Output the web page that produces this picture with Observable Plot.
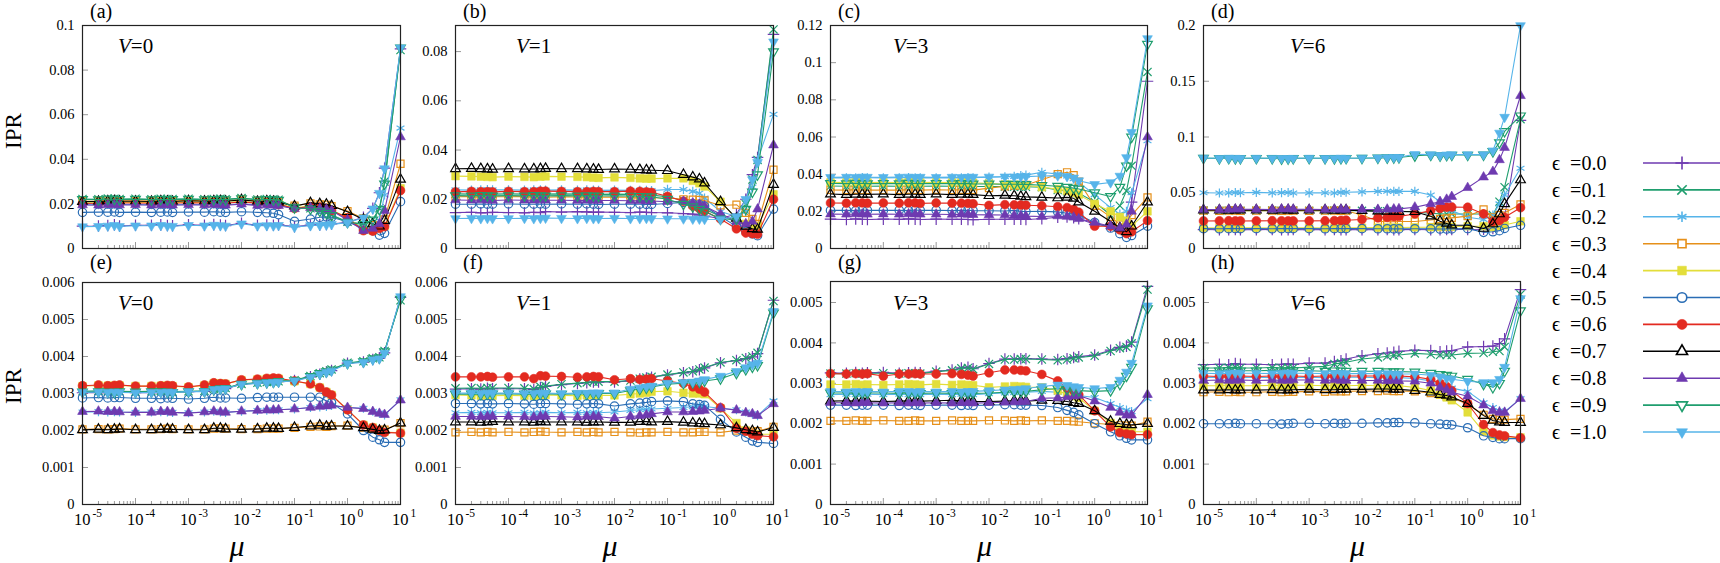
<!DOCTYPE html>
<html><head><meta charset="utf-8">
<script src="https://cdn.jsdelivr.net/npm/d3@7"></script>
<script src="https://cdn.jsdelivr.net/npm/@observablehq/plot@0.6"></script>
<style>
body{margin:0;background:#fff;}
#chart{position:relative;width:1720px;height:563px;overflow:hidden;font-family:"Liberation Serif","DejaVu Serif","Noto Serif","Times New Roman",Times,serif;color:#000;background:#fff;}
.abs{position:absolute;white-space:nowrap;line-height:1;}
</style></head><body><div id="chart"></div>
<script>
// ---------------- data ----------------
const mu = [1e-5,2e-5,3e-5,4e-5,5e-5,1e-4,2e-4,3e-4,4e-4,5e-4,1e-3,2e-3,3e-3,4e-3,5e-3,1e-2,2e-2,3e-2,4e-2,5e-2,0.1,0.2,0.3,0.4,0.5,1,2,3,4,5,10];
const epsLabels = ["0.0","0.1","0.2","0.3","0.4","0.5","0.6","0.7","0.8","0.9","1.0"];
const panelLetters = ["(a)","(b)","(c)","(d)","(e)","(f)","(g)","(h)"];
const Vvalues = [0,1,3,6,0,1,3,6];
const yMaxes = [0.1,0.0906,0.12,0.2,0.006,0.006,0.00552,0.00552];
const yTicksTop = [[0,0.02,0.04,0.06,0.08,0.1],[0,0.02,0.04,0.06,0.08],[0,0.02,0.04,0.06,0.08,0.1,0.12],[0,0.05,0.1,0.15,0.2]];
const yTicksBottom = [[0,0.001,0.002,0.003,0.004,0.005,0.006],[0,0.001,0.002,0.003,0.004,0.005,0.006],[0,0.001,0.002,0.003,0.004,0.005],[0,0.001,0.002,0.003,0.004,0.005]];
const xMajor = [1e-5,1e-4,1e-3,1e-2,1e-1,1,10];
const xMinor = [2e-5,3e-5,4e-5,5e-5,6e-5,7e-5,8e-5,9e-5,2e-4,3e-4,4e-4,5e-4,6e-4,7e-4,8e-4,9e-4,2e-3,3e-3,4e-3,5e-3,6e-3,7e-3,8e-3,9e-3,2e-2,3e-2,4e-2,5e-2,6e-2,7e-2,8e-2,9e-2,0.2,0.3,0.4,0.5,0.6,0.7,0.8,0.9,2,3,4,5,6,7,8,9];

// IPR series, one row per epsilon (0.0 ... 1.0), one column per mu
const iprA = [
[.0100,.0101,.0103,.0106,.0101,.0104,.0104,.0106,.0103,.0102,.0106,.0104,.0107,.0105,.0103,.0113,.0104,.0105,.0104,.0106,.0098,.0105,.0106,.0108,.0110,.0118,.0140,.0180,.0250,.0360,.0895],
[.0222,.0221,.0224,.0223,.0222,.0223,.0221,.0223,.0222,.0222,.0223,.0221,.0222,.0223,.0221,.0226,.0220,.0222,.0221,.0219,.0185,.0180,.0170,.0160,.0150,.0120,.0110,.0130,.0180,.0300,.0890],
[.0197,.0196,.0198,.0199,.0197,.0198,.0196,.0197,.0198,.0196,.0198,.0197,.0199,.0198,.0196,.0201,.0195,.0197,.0196,.0194,.0180,.0185,.0180,.0178,.0172,.0130,.0092,.0100,.0125,.0240,.0540],
[.0212,.0213,.0215,.0216,.0214,.0214,.0213,.0215,.0214,.0213,.0216,.0214,.0215,.0216,.0214,.0220,.0213,.0215,.0213,.0210,.0192,.0202,.0198,.0196,.0190,.0168,.0135,.0105,.0098,.0130,.0380],
[.0205,.0206,.0208,.0209,.0207,.0207,.0206,.0208,.0207,.0206,.0208,.0207,.0209,.0208,.0206,.0212,.0206,.0207,.0206,.0200,.0182,.0190,.0188,.0182,.0172,.0140,.0082,.0080,.0095,.0100,.0270],
[.0162,.0163,.0163,.0164,.0162,.0163,.0162,.0163,.0164,.0162,.0164,.0163,.0165,.0163,.0162,.0165,.0162,.0160,.0158,.0152,.0122,.0132,.0140,.0142,.0140,.0120,.0090,.0080,.0060,.0068,.0210],
[.0202,.0203,.0205,.0206,.0204,.0204,.0203,.0205,.0204,.0203,.0205,.0204,.0206,.0205,.0203,.0209,.0203,.0204,.0203,.0197,.0180,.0188,.0186,.0180,.0170,.0138,.0080,.0078,.0090,.0098,.0260],
[.0210,.0211,.0213,.0214,.0212,.0212,.0211,.0213,.0212,.0211,.0214,.0212,.0213,.0214,.0212,.0218,.0211,.0213,.0211,.0208,.0190,.0205,.0200,.0198,.0192,.0165,.0130,.0110,.0100,.0125,.0310],
[.0195,.0194,.0196,.0197,.0195,.0196,.0194,.0195,.0196,.0194,.0196,.0195,.0197,.0196,.0194,.0199,.0193,.0195,.0194,.0192,.0178,.0183,.0178,.0176,.0170,.0128,.0080,.0090,.0110,.0170,.0500],
[.0220,.0219,.0222,.0221,.0220,.0221,.0219,.0221,.0220,.0220,.0221,.0219,.0220,.0221,.0219,.0224,.0218,.0220,.0219,.0217,.0183,.0178,.0168,.0158,.0148,.0118,.0108,.0128,.0175,.0290,.0900],
[.0098,.0099,.0101,.0104,.0099,.0102,.0102,.0104,.0101,.0100,.0104,.0102,.0105,.0103,.0101,.0111,.0102,.0103,.0102,.0104,.0096,.0103,.0104,.0106,.0108,.0116,.0138,.0178,.0248,.0358,.0900]];
const iprB = [
[.0146,.0147,.0145,.0146,.0147,.0146,.0145,.0147,.0146,.0150,.0148,.0150,.0149,.0147,.0148,.0147,.0146,.0148,.0147,.0146,.0145,.0142,.0140,.0136,.0132,.0122,.0140,.0200,.0300,.0370,.0870],
[.0222,.0221,.0223,.0222,.0221,.0222,.0221,.0223,.0222,.0221,.0222,.0221,.0222,.0221,.0220,.0221,.0220,.0219,.0218,.0217,.0210,.0195,.0180,.0170,.0160,.0130,.0110,.0180,.0280,.0360,.0890],
[.0238,.0237,.0238,.0239,.0238,.0238,.0237,.0238,.0238,.0237,.0238,.0237,.0238,.0237,.0236,.0237,.0236,.0236,.0236,.0235,.0240,.0240,.0232,.0225,.0205,.0150,.0130,.0150,.0250,.0360,.0545],
[.0210,.0211,.0210,.0209,.0210,.0210,.0211,.0210,.0209,.0208,.0210,.0209,.0210,.0209,.0208,.0209,.0208,.0207,.0207,.0206,.0205,.0200,.0198,.0197,.0195,.0175,.0178,.0145,.0120,.0100,.0320],
[.0294,.0293,.0292,.0291,.0290,.0292,.0291,.0290,.0292,.0293,.0292,.0291,.0290,.0288,.0287,.0289,.0287,.0285,.0284,.0284,.0285,.0285,.0275,.0265,.0252,.0190,.0120,.0100,.0080,.0090,.0220],
[.0180,.0180,.0181,.0180,.0180,.0181,.0180,.0180,.0181,.0180,.0181,.0180,.0181,.0180,.0179,.0180,.0180,.0180,.0179,.0179,.0183,.0187,.0182,.0178,.0172,.0130,.0090,.0070,.0060,.0052,.0160],
[.0230,.0232,.0231,.0231,.0230,.0232,.0231,.0231,.0233,.0233,.0232,.0231,.0231,.0232,.0231,.0231,.0233,.0232,.0230,.0228,.0212,.0192,.0172,.0162,.0152,.0120,.0080,.0063,.0060,.0058,.0200],
[.0324,.0325,.0324,.0323,.0322,.0324,.0323,.0323,.0324,.0325,.0324,.0324,.0323,.0322,.0321,.0323,.0322,.0320,.0319,.0318,.0316,.0300,.0290,.0282,.0266,.0190,.0122,.0090,.0080,.0078,.0260],
[.0197,.0196,.0197,.0196,.0195,.0197,.0196,.0196,.0197,.0196,.0196,.0195,.0196,.0195,.0195,.0195,.0194,.0194,.0193,.0193,.0190,.0191,.0185,.0180,.0172,.0140,.0110,.0100,.0110,.0160,.0420],
[.0215,.0214,.0216,.0215,.0214,.0215,.0214,.0216,.0215,.0214,.0215,.0214,.0215,.0214,.0213,.0214,.0213,.0212,.0211,.0210,.0200,.0180,.0170,.0160,.0150,.0120,.0120,.0160,.0230,.0300,.0800],
[.0122,.0123,.0122,.0123,.0122,.0122,.0123,.0122,.0123,.0124,.0123,.0122,.0123,.0122,.0122,.0123,.0122,.0122,.0123,.0122,.0121,.0121,.0120,.0120,.0119,.0118,.0130,.0200,.0280,.0350,.0840]];
const iprC = [
[.0158,.0156,.0159,.0157,.0156,.0158,.0157,.0159,.0158,.0156,.0158,.0157,.0157,.0156,.0155,.0157,.0157,.0158,.0157,.0156,.0160,.0168,.0170,.0166,.0160,.0130,.0120,.0110,.0150,.0250,.0900],
[.0336,.0335,.0337,.0336,.0335,.0336,.0335,.0336,.0337,.0335,.0336,.0335,.0336,.0335,.0334,.0334,.0333,.0333,.0333,.0332,.0330,.0315,.0308,.0302,.0298,.0250,.0180,.0230,.0310,.0445,.0950],
[.0380,.0381,.0380,.0382,.0381,.0380,.0381,.0382,.0380,.0381,.0380,.0381,.0380,.0382,.0381,.0384,.0386,.0388,.0392,.0395,.0410,.0400,.0390,.0375,.0355,.0290,.0220,.0185,.0200,.0300,.0580],
[.0315,.0314,.0316,.0315,.0314,.0315,.0314,.0316,.0315,.0314,.0316,.0315,.0316,.0315,.0314,.0325,.0335,.0338,.0340,.0342,.0370,.0400,.0410,.0395,.0360,.0230,.0170,.0130,.0140,.0180,.0275],
[.0356,.0355,.0357,.0356,.0355,.0356,.0355,.0357,.0356,.0355,.0356,.0355,.0356,.0355,.0354,.0350,.0345,.0343,.0342,.0340,.0330,.0320,.0310,.0300,.0290,.0240,.0200,.0170,.0150,.0120,.0200],
[.0205,.0206,.0204,.0207,.0205,.0205,.0206,.0204,.0207,.0205,.0206,.0204,.0205,.0206,.0204,.0203,.0202,.0205,.0200,.0199,.0200,.0197,.0190,.0186,.0180,.0140,.0110,.0080,.0060,.0070,.0120],
[.0245,.0244,.0246,.0245,.0244,.0245,.0244,.0246,.0245,.0243,.0245,.0244,.0244,.0243,.0241,.0232,.0236,.0235,.0234,.0233,.0230,.0225,.0220,.0210,.0195,.0120,.0120,.0100,.0080,.0090,.0150],
[.0293,.0290,.0292,.0292,.0291,.0293,.0290,.0292,.0292,.0290,.0293,.0290,.0292,.0291,.0290,.0284,.0286,.0284,.0280,.0278,.0275,.0272,.0275,.0270,.0250,.0200,.0145,.0110,.0090,.0120,.0250],
[.0185,.0184,.0186,.0185,.0184,.0185,.0184,.0186,.0185,.0184,.0184,.0183,.0185,.0183,.0182,.0181,.0180,.0178,.0176,.0174,.0172,.0175,.0172,.0168,.0160,.0140,.0120,.0110,.0130,.0200,.0600],
[.0350,.0349,.0351,.0350,.0349,.0350,.0349,.0351,.0350,.0349,.0350,.0349,.0350,.0349,.0348,.0347,.0346,.0346,.0345,.0345,.0340,.0335,.0330,.0325,.0320,.0300,.0280,.0330,.0445,.0600,.1100],
[.0383,.0384,.0383,.0385,.0384,.0383,.0384,.0385,.0383,.0384,.0383,.0384,.0383,.0384,.0384,.0385,.0386,.0386,.0387,.0387,.0390,.0392,.0388,.0380,.0365,.0345,.0355,.0390,.0490,.0625,.1130]];
const iprD = [
[.0170,.0168,.0169,.0170,.0168,.0169,.0170,.0168,.0169,.0170,.0168,.0169,.0170,.0168,.0169,.0168,.0169,.0170,.0168,.0169,.0170,.0168,.0169,.0170,.0170,.0171,.0172,.0180,.0220,.0280,.1150],
[.0340,.0338,.0339,.0340,.0338,.0339,.0340,.0338,.0339,.0340,.0338,.0339,.0340,.0338,.0339,.0338,.0335,.0334,.0334,.0333,.0330,.0315,.0312,.0310,.0310,.0310,.0310,.0300,.0420,.0550,.1160],
[.0500,.0498,.0499,.0502,.0500,.0503,.0499,.0501,.0502,.0498,.0499,.0500,.0498,.0503,.0504,.0508,.0512,.0513,.0512,.0512,.0512,.0480,.0420,.0370,.0340,.0280,.0260,.0300,.0400,.0480,.0720],
[.0340,.0338,.0339,.0340,.0338,.0339,.0340,.0338,.0339,.0340,.0338,.0339,.0340,.0338,.0339,.0300,.0245,.0240,.0240,.0242,.0242,.0255,.0265,.0270,.0275,.0290,.0350,.0280,.0300,.0320,.0395],
[.0185,.0184,.0185,.0186,.0185,.0185,.0184,.0185,.0186,.0185,.0185,.0184,.0185,.0186,.0185,.0186,.0187,.0188,.0188,.0189,.0190,.0191,.0192,.0193,.0195,.0200,.0200,.0190,.0200,.0210,.0244],
[.0178,.0177,.0178,.0179,.0178,.0178,.0177,.0178,.0179,.0178,.0178,.0177,.0178,.0179,.0178,.0178,.0177,.0177,.0176,.0176,.0177,.0176,.0175,.0175,.0176,.0178,.0145,.0150,.0160,.0180,.0208],
[.0247,.0248,.0249,.0248,.0247,.0248,.0249,.0248,.0248,.0247,.0248,.0249,.0250,.0252,.0254,.0260,.0275,.0280,.0285,.0288,.0310,.0340,.0360,.0370,.0372,.0370,.0310,.0240,.0250,.0280,.0366],
[.0345,.0344,.0343,.0345,.0344,.0344,.0343,.0345,.0344,.0343,.0345,.0344,.0343,.0345,.0344,.0340,.0335,.0334,.0333,.0332,.0330,.0290,.0245,.0225,.0210,.0208,.0180,.0220,.0310,.0400,.0615],
[.0350,.0349,.0351,.0353,.0352,.0351,.0350,.0353,.0354,.0352,.0351,.0350,.0352,.0351,.0350,.0350,.0350,.0352,.0353,.0355,.0370,.0400,.0420,.0440,.0465,.0545,.0640,.0690,.0795,.0905,.1370],
[.0810,.0808,.0809,.0807,.0808,.0809,.0808,.0805,.0806,.0808,.0809,.0808,.0807,.0808,.0809,.0810,.0812,.0814,.0815,.0816,.0832,.0838,.0832,.0836,.0838,.0838,.0840,.0870,.0950,.1050,.1190],
[.0812,.0809,.0811,.0810,.0809,.0811,.0810,.0809,.0808,.0810,.0811,.0809,.0810,.0811,.0810,.0812,.0814,.0816,.0817,.0818,.0845,.0842,.0835,.0840,.0842,.0842,.0842,.0877,.1036,.1178,.2000]];
const iprE = [
[.00302,.00303,.00302,.00303,.00304,.00302,.00303,.00302,.00303,.00304,.00305,.00306,.00310,.00312,.00313,.00325,.00328,.00330,.00331,.00332,.00335,.00345,.00352,.00358,.00362,.00382,.00385,.00392,.00395,.00410,.00560],
[.00306,.00307,.00306,.00305,.00306,.00305,.00306,.00307,.00306,.00305,.00306,.00307,.00312,.00314,.00315,.00326,.00329,.00331,.00332,.00333,.00336,.00347,.00355,.00360,.00365,.00383,.00387,.00395,.00398,.00415,.00552],
[.00250,.00251,.00250,.00251,.00250,.00249,.00250,.00251,.00250,.00249,.00248,.00250,.00252,.00250,.00249,.00252,.00254,.00255,.00256,.00256,.00258,.00262,.00264,.00265,.00268,.00262,.00260,.00252,.00247,.00242,.00283],
[.00203,.00204,.00203,.00204,.00205,.00203,.00203,.00204,.00205,.00204,.00203,.00203,.00205,.00206,.00205,.00204,.00204,.00205,.00205,.00205,.00207,.00210,.00211,.00210,.00212,.00213,.00208,.00204,.00200,.00202,.00220],
[.00320,.00322,.00321,.00321,.00322,.00320,.00320,.00321,.00321,.00320,.00317,.00322,.00328,.00327,.00326,.00336,.00338,.00340,.00341,.00340,.00333,.00326,.00316,.00304,.00296,.00256,.00215,.00208,.00200,.00196,.00194],
[.00288,.00289,.00288,.00289,.00289,.00287,.00287,.00286,.00288,.00287,.00285,.00287,.00290,.00288,.00288,.00287,.00289,.00290,.00290,.00290,.00290,.00290,.00290,.00280,.00275,.00245,.00200,.00182,.00175,.00168,.00168],
[.00321,.00323,.00321,.00322,.00323,.00320,.00320,.00321,.00322,.00321,.00318,.00323,.00329,.00327,.00326,.00337,.00339,.00341,.00342,.00341,.00334,.00326,.00316,.00304,.00296,.00256,.00215,.00208,.00200,.00195,.00193],
[.00202,.00203,.00202,.00203,.00204,.00202,.00202,.00203,.00204,.00203,.00202,.00202,.00206,.00206,.00204,.00203,.00204,.00206,.00206,.00205,.00208,.00212,.00214,.00211,.00212,.00212,.00207,.00203,.00200,.00201,.00220],
[.00251,.00252,.00251,.00251,.00250,.00249,.00249,.00251,.00251,.00249,.00247,.00250,.00252,.00250,.00249,.00252,.00254,.00255,.00255,.00256,.00258,.00262,.00265,.00266,.00268,.00262,.00259,.00251,.00246,.00243,.00282],
[.00304,.00305,.00304,.00303,.00305,.00304,.00305,.00305,.00304,.00303,.00305,.00306,.00311,.00313,.00314,.00325,.00328,.00330,.00331,.00333,.00335,.00346,.00354,.00359,.00364,.00382,.00386,.00394,.00397,.00413,.00555],
[.00303,.00304,.00303,.00304,.00303,.00302,.00303,.00303,.00304,.00303,.00305,.00305,.00311,.00312,.00313,.00325,.00327,.00329,.00330,.00331,.00334,.00344,.00352,.00357,.00361,.00381,.00384,.00391,.00394,.00409,.00562]];
const iprF = [
[.00312,.00313,.00312,.00314,.00313,.00313,.00313,.00311,.00316,.00319,.00324,.00327,.00329,.00331,.00331,.00331,.00334,.00339,.00342,.00344,.00350,.00356,.00359,.00364,.00369,.00383,.00389,.00394,.00399,.00408,.00552],
[.00314,.00315,.00314,.00315,.00315,.00315,.00314,.00312,.00318,.00320,.00325,.00328,.00330,.00332,.00332,.00332,.00335,.00340,.00343,.00345,.00351,.00357,.00360,.00365,.00370,.00384,.00390,.00396,.00400,.00410,.00550],
[.00248,.00249,.00248,.00249,.00248,.00248,.00249,.00247,.00248,.00249,.00248,.00249,.00248,.00249,.00248,.00250,.00254,.00256,.00257,.00258,.00260,.00262,.00264,.00266,.00265,.00260,.00256,.00250,.00245,.00240,.00280],
[.00195,.00196,.00195,.00196,.00195,.00196,.00195,.00196,.00197,.00196,.00195,.00196,.00195,.00196,.00195,.00196,.00195,.00194,.00195,.00195,.00196,.00195,.00195,.00196,.00196,.00195,.00200,.00198,.00197,.00198,.00210],
[.00296,.00295,.00294,.00295,.00294,.00295,.00294,.00293,.00295,.00296,.00295,.00294,.00295,.00296,.00295,.00295,.00298,.00300,.00302,.00305,.00306,.00302,.00300,.00300,.00298,.00260,.00220,.00200,.00192,.00190,.00190],
[.00273,.00273,.00272,.00273,.00272,.00273,.00272,.00271,.00273,.00273,.00272,.00271,.00272,.00273,.00272,.00266,.00272,.00274,.00276,.00278,.00280,.00278,.00272,.00270,.00268,.00230,.00196,.00182,.00172,.00168,.00165],
[.00345,.00345,.00345,.00346,.00344,.00345,.00345,.00340,.00348,.00347,.00346,.00344,.00345,.00346,.00345,.00337,.00340,.00338,.00339,.00340,.00334,.00327,.00318,.00312,.00304,.00262,.00206,.00198,.00190,.00186,.00183],
[.00223,.00223,.00222,.00223,.00224,.00223,.00223,.00222,.00224,.00223,.00223,.00223,.00222,.00223,.00223,.00222,.00222,.00224,.00224,.00223,.00224,.00222,.00220,.00219,.00218,.00215,.00207,.00202,.00199,.00196,.00208],
[.00238,.00238,.00237,.00238,.00238,.00238,.00237,.00236,.00238,.00238,.00237,.00236,.00238,.00238,.00237,.00233,.00238,.00240,.00242,.00245,.00250,.00250,.00251,.00252,.00254,.00260,.00255,.00248,.00245,.00240,.00272],
[.00298,.00299,.00298,.00299,.00299,.00299,.00298,.00298,.00299,.00299,.00298,.00299,.00299,.00300,.00300,.00300,.00308,.00312,.00315,.00318,.00325,.00328,.00329,.00331,.00334,.00340,.00355,.00365,.00372,.00376,.00518],
[.00301,.00301,.00300,.00301,.00301,.00301,.00300,.00300,.00301,.00301,.00300,.00301,.00301,.00302,.00302,.00302,.00312,.00315,.00318,.00320,.00328,.00330,.00331,.00334,.00338,.00347,.00360,.00370,.00378,.00382,.00522]];
const iprG = [
[.00326,.00325,.00327,.00325,.00326,.00327,.00325,.00326,.00327,.00326,.00330,.00333,.00338,.00340,.00336,.00349,.00360,.00360,.00361,.00361,.00360,.00359,.00361,.00364,.00366,.00370,.00382,.00389,.00392,.00402,.00540],
[.00324,.00324,.00325,.00324,.00325,.00325,.00324,.00325,.00325,.00324,.00329,.00332,.00337,.00338,.00335,.00348,.00359,.00359,.00360,.00360,.00359,.00357,.00359,.00362,.00364,.00368,.00380,.00387,.00390,.00399,.00532],
[.00272,.00273,.00272,.00273,.00273,.00272,.00273,.00272,.00273,.00272,.00273,.00272,.00273,.00272,.00272,.00274,.00276,.00277,.00278,.00278,.00280,.00278,.00276,.00272,.00270,.00265,.00250,.00240,.00234,.00230,.00262],
[.00207,.00207,.00208,.00207,.00207,.00208,.00207,.00207,.00208,.00207,.00207,.00208,.00207,.00207,.00207,.00208,.00208,.00207,.00208,.00207,.00208,.00207,.00207,.00206,.00205,.00201,.00198,.00196,.00195,.00195,.00205],
[.00297,.00297,.00298,.00296,.00297,.00296,.00297,.00298,.00297,.00296,.00298,.00296,.00297,.00296,.00295,.00290,.00292,.00293,.00292,.00291,.00290,.00282,.00272,.00268,.00264,.00232,.00202,.00188,.00182,.00180,.00180],
[.00246,.00246,.00245,.00246,.00246,.00246,.00245,.00246,.00246,.00245,.00246,.00246,.00245,.00246,.00245,.00246,.00247,.00247,.00246,.00246,.00245,.00240,.00233,.00228,.00222,.00200,.00180,.00170,.00164,.00160,.00160],
[.00324,.00323,.00324,.00323,.00324,.00318,.00323,.00323,.00324,.00323,.00323,.00324,.00322,.00320,.00318,.00326,.00333,.00333,.00332,.00331,.00322,.00306,.00288,.00282,.00272,.00232,.00192,.00178,.00175,.00173,.00173],
[.00256,.00257,.00256,.00257,.00256,.00255,.00256,.00257,.00256,.00256,.00257,.00258,.00257,.00257,.00255,.00255,.00256,.00257,.00257,.00256,.00258,.00257,.00255,.00252,.00250,.00232,.00206,.00200,.00198,.00197,.00200],
[.00252,.00252,.00251,.00252,.00252,.00251,.00252,.00251,.00252,.00251,.00252,.00251,.00252,.00252,.00251,.00252,.00253,.00254,.00254,.00255,.00263,.00264,.00266,.00268,.00270,.00256,.00240,.00228,.00221,.00221,.00272],
[.00276,.00276,.00275,.00276,.00276,.00276,.00275,.00276,.00276,.00275,.00276,.00275,.00276,.00275,.00275,.00276,.00278,.00279,.00279,.00280,.00284,.00287,.00285,.00283,.00282,.00280,.00282,.00298,.00318,.00340,.00485],
[.00280,.00279,.00280,.00279,.00280,.00279,.00280,.00280,.00279,.00280,.00279,.00280,.00279,.00280,.00280,.00282,.00284,.00285,.00286,.00287,.00292,.00296,.00295,.00292,.00290,.00287,.00290,.00308,.00328,.00350,.00492]];
const iprH = [
[.00346,.00347,.00346,.00349,.00347,.00347,.00346,.00347,.00348,.00347,.00350,.00350,.00354,.00356,.00360,.00368,.00373,.00375,.00377,.00379,.00382,.00381,.00378,.00380,.00381,.00390,.00391,.00392,.00398,.00410,.00532],
[.00338,.00338,.00339,.00340,.00338,.00338,.00339,.00338,.00339,.00338,.00340,.00342,.00348,.00350,.00352,.00360,.00364,.00367,.00369,.00370,.00374,.00372,.00370,.00370,.00370,.00374,.00375,.00378,.00380,.00390,.00520],
[.00314,.00315,.00314,.00315,.00314,.00315,.00314,.00315,.00315,.00314,.00315,.00314,.00315,.00314,.00315,.00315,.00314,.00314,.00315,.00314,.00312,.00306,.00300,.00292,.00288,.00280,.00252,.00240,.00232,.00230,.00262],
[.00278,.00279,.00278,.00279,.00278,.00278,.00279,.00278,.00279,.00279,.00280,.00279,.00280,.00280,.00280,.00281,.00281,.00282,.00281,.00281,.00280,.00276,.00272,.00268,.00264,.00248,.00222,.00212,.00210,.00210,.00212],
[.00294,.00294,.00295,.00294,.00294,.00294,.00295,.00294,.00294,.00295,.00295,.00294,.00294,.00295,.00294,.00295,.00294,.00294,.00295,.00294,.00290,.00282,.00272,.00265,.00258,.00228,.00180,.00171,.00168,.00167,.00166],
[.00200,.00200,.00200,.00201,.00200,.00200,.00200,.00199,.00200,.00201,.00201,.00200,.00201,.00200,.00201,.00201,.00202,.00202,.00203,.00203,.00202,.00200,.00199,.00198,.00197,.00190,.00170,.00166,.00163,.00163,.00163],
[.00318,.00317,.00318,.00317,.00318,.00317,.00318,.00317,.00318,.00318,.00317,.00318,.00318,.00317,.00318,.00318,.00318,.00317,.00318,.00318,.00316,.00310,.00300,.00292,.00282,.00250,.00198,.00178,.00172,.00170,.00165],
[.00283,.00283,.00284,.00283,.00283,.00283,.00284,.00283,.00283,.00284,.00285,.00284,.00284,.00285,.00285,.00285,.00286,.00286,.00285,.00285,.00282,.00278,.00272,.00270,.00266,.00250,.00220,.00208,.00204,.00203,.00203],
[.00307,.00308,.00307,.00307,.00308,.00307,.00308,.00307,.00307,.00308,.00308,.00307,.00308,.00307,.00307,.00307,.00307,.00306,.00307,.00306,.00305,.00300,.00290,.00284,.00278,.00268,.00246,.00232,.00228,.00228,.00262],
[.00331,.00331,.00332,.00331,.00331,.00331,.00332,.00331,.00331,.00332,.00331,.00330,.00331,.00331,.00330,.00330,.00330,.00329,.00329,.00329,.00328,.00325,.00322,.00320,.00318,.00310,.00298,.00290,.00300,.00330,.00480],
[.00325,.00324,.00325,.00326,.00325,.00325,.00324,.00325,.00326,.00325,.00325,.00324,.00325,.00325,.00324,.00324,.00324,.00324,.00323,.00323,.00323,.00320,.00316,.00312,.00310,.00305,.00302,.00302,.00310,.00340,.00510]];
const panelData = [iprA, iprB, iprC, iprD, iprE, iprF, iprG, iprH];

// ---------------- styles ----------------
const colors = ["#6e3ab0","#1f9e6e","#56b4e9","#e6901a","#e3de3a","#2a6db5","#e32a20","#000000","#6e3ab0","#1f9e6e","#56b4e9"];
const triDown = {draw(ctx, size){ const y = -Math.sqrt(size / (Math.sqrt(3) * 3)); ctx.moveTo(0, -y * 2); ctx.lineTo(-Math.sqrt(3) * y, y); ctx.lineTo(Math.sqrt(3) * y, y); ctx.closePath(); }};
const symPlot = ["plus","times","asterisk","square","square","circle","circle","triangle","triangle",triDown,triDown];
const symD3 = [d3.symbolPlus,d3.symbolTimes,d3.symbolAsterisk,d3.symbolSquare,d3.symbolSquare,d3.symbolCircle,d3.symbolCircle,d3.symbolTriangle,d3.symbolTriangle,triDown,triDown];
const filled = [false,false,false,false,true,false,true,false,true,false,true];
const radii = [3.8,3.8,4.3,4.0,4.3,4.2,4.4,3.6,3.6,3.6,3.6];

const FONT = '"Liberation Serif","DejaVu Serif","Noto Serif","Times New Roman",Times,serif';
const chart = document.getElementById("chart");
const cols = [[82,400],[455,773],[830,1147],[1203,1520]];
const rowsY = [[25,248],[282,504]];
const muCenters = [];

panelData.forEach((series, idx) => {
  const col = idx % 4, row = Math.floor(idx / 4);
  const [fl, fr] = cols[col];
  const ft = (row === 1 && col >= 2) ? 281 : rowsY[row][0];
  const fb = rowsY[row][1];
  const padL = 72, padR = 34;
  const svgTop = row === 0 ? 0 : 256;
  const svgH = row === 0 ? fb + 8 : 563 - 256;
  const fw = fr - fl, fh = fb - ft;
  const yTicks = row === 0 ? yTicksTop[col] : yTicksBottom[col];
  const table = [];
  series.forEach((vals, k) => vals.forEach((v, i) => table.push({mu: mu[i], ipr: v, k})));
  const marks = [
    Plot.tickX(xMinor, {x: d => d, insetTop: fh - 3, stroke: "#9a9a9a"}),
    Plot.tickX(xMajor, {x: d => d, insetTop: fh - 6, stroke: "#9a9a9a"}),
    Plot.tickY(yTicks, {y: d => d, insetRight: fw - 6, stroke: "#9a9a9a"}),
    Plot.axisY({ticks: yTicks, tickFormat: d => String(d), tickSize: 0, tickPadding: 8, fontSize: 14.5, fontFamily: FONT, label: null})
  ];
  if (row === 1) {
    marks.push(Plot.text(xMajor, {x: d => d, frameAnchor: "bottom", text: () => "10", dy: 20, dx: 8, textAnchor: "end", lineAnchor: "bottom", fontSize: 16.5, fontFamily: FONT}));
    marks.push(Plot.text(xMajor, {x: d => d, frameAnchor: "bottom", text: d => String(Math.round(Math.log10(d))), dy: 12, dx: 10, textAnchor: "start", lineAnchor: "bottom", fontSize: 11.5, fontFamily: FONT}));
    muCenters.push((fl + fr) / 2 - 4);
  }
  series.forEach((vals, k) => {
    const d = table.filter(r => r.k === k);
    marks.push(Plot.line(d, {x: "mu", y: "ipr", stroke: colors[k], strokeWidth: 1.1}));
    marks.push(Plot.dot(d, {x: "mu", y: "ipr", symbol: symPlot[k], r: radii[k],
      fill: filled[k] ? colors[k] : "none", stroke: colors[k], strokeWidth: filled[k] ? 0.6 : 1.2}));
  });
  marks.push(Plot.frame({stroke: "#222", strokeWidth: 1.2}));
  const svg = Plot.plot({
    width: fw + padL + padR, height: svgH,
    marginLeft: padL, marginRight: padR, marginTop: ft - svgTop, marginBottom: svgH - (fb - svgTop),
    x: {type: "log", domain: [1e-5, 10], axis: null},
    y: {domain: [0, yMaxes[idx]]},
    style: {fontFamily: FONT, fontSize: "14.5px", background: "transparent", overflow: "visible", color: "#000"},
    marks
  });
  const holder = document.createElement("div");
  holder.className = "abs";
  holder.style.left = (fl - padL) + "px";
  holder.style.top = svgTop + "px";
  holder.appendChild(svg);
  chart.appendChild(holder);

  // panel letter
  const lab = document.createElement("div");
  lab.className = "abs";
  lab.style.cssText += `left:${fl + 8}px;top:${row === 0 ? 11 : 262}px;font-size:20px;transform:translateY(-50%);`;
  lab.textContent = panelLetters[idx];
  chart.appendChild(lab);
  // V label
  const vOff = [36, 61, 63, 87][col];
  const vl = document.createElement("div");
  vl.className = "abs";
  vl.style.cssText += `left:${fl + vOff}px;top:${row === 0 ? 46 : 303}px;font-size:21px;transform:translateY(-50%);`;
  vl.innerHTML = `<i>V</i>=${Vvalues[idx]}`;
  chart.appendChild(vl);
  if (col === 0) {
    const ip = document.createElement("div");
    ip.className = "abs";
    ip.style.cssText += `left:13px;top:${row === 0 ? 131 : 386}px;font-size:23px;transform:translate(-50%,-50%) rotate(-90deg);`;
    ip.textContent = "IPR";
    chart.appendChild(ip);
  }
});

// ---------------- x-axis titles (mu) ----------------
const ov = d3.select(chart).append("svg").attr("class", "abs")
  .style("left", "0px").style("top", "0px").attr("width", 1720).attr("height", 563).style("pointer-events", "none");
muCenters.forEach(cx => {
  ov.append("text").attr("x", cx).attr("y", 556).attr("text-anchor", "middle")
    .attr("font-size", 30).attr("font-style", "italic").attr("font-family", FONT).text("μ");
});

// ---------------- legend ----------------
const lg = d3.select(chart).append("svg").attr("class", "abs")
  .style("left", "1540px").style("top", "0px").attr("width", 180).attr("height", 563);
epsLabels.forEach((e, k) => {
  const y = 163 + k * 26.9;
  lg.append("text").attr("x", 12).attr("y", y + 7).attr("font-size", 20).attr("font-family", FONT)
    .text("\u03f5\u2002=" + e);
  lg.append("line").attr("x1", 103).attr("x2", 180).attr("y1", y).attr("y2", y)
    .attr("stroke", colors[k]).attr("stroke-width", 1.6);
  lg.append("path").attr("transform", `translate(142,${y})`)
    .attr("d", d3.symbol(symD3[k], Math.PI * radii[k] * radii[k] * 1.3)())
    .attr("fill", filled[k] ? colors[k] : "#fff").attr("stroke", colors[k]).attr("stroke-width", filled[k] ? 0.6 : 1.6);
});
</script></body></html>
